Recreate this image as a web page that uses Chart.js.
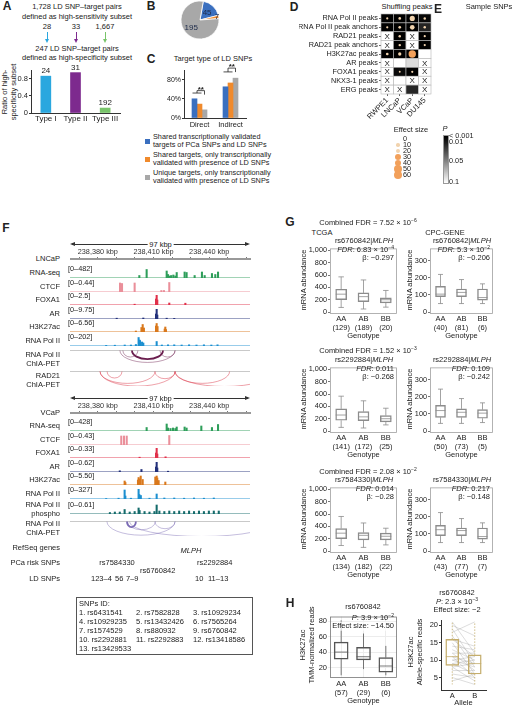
<!DOCTYPE html>
<html>
<head>
<meta charset="utf-8">
<script src="https://cdn.jsdelivr.net/npm/chart.js@4.4.0/dist/chart.umd.min.js"></script>
<style>
body { margin: 0; width: 520px; height: 707px; position: relative; background: #fff; overflow: hidden;
       font-family: 'Liberation Sans', Arial, sans-serif; color: #222; }
.t { position: absolute; font-size: 7px; line-height: 8px; white-space: nowrap; }
.t sup { font-size: 5px; vertical-align: 3px; line-height: 0; }
canvas { position: absolute; }
.bx { position: absolute; }
</style>
</head>
<body>
<script>
// ---------- Panel A ----------
const typeLabels = ['Type I', 'Type II', 'Type III'];
const sensitivityCounts = ['28', '33', '1,667'];
const specificityCounts = [24, 31, 192];
const specificityRatio = [0.857, 0.939, 0.115];
const ratioTicks = [0, 0.4, 0.8];

// ---------- Panel B ----------
const pieCounts = [45, 7, 195];

// ---------- Panel C ----------
const targetGroups = ['Direct', 'Indirect'];
const sharedValidated = [40, 65];
const sharedLdOnly = [29, 73];
const uniqueLdOnly = [17, 83];
const percentTicks = [0, 20, 40, 60, 80, 100];
const sigBrackets = [[52, 57], [96, 104]]; // base / top, in %

// ---------- Panels D, E ----------
const cellLines = ['RWPE1', 'LNCaP', 'VCaP', 'DU145'];
const peakSets = ['RNA Pol II peaks', 'RNA Pol II peak anchors', 'RAD21 peaks', 'RAD21 peak anchors',
  'H3K27ac peaks', 'AR peaks', 'FOXA1 peaks', 'NKX3-1 peaks', 'ERG peaks'];
const shuffleP = [
  [0.001, 0.001, 0.001, 0.003], [0.001, 0.001, 0.001, 0.012], [null, 0.001, null, 0.001],
  [null, 0.001, null, 0.001], [0.001, 0.001, 0.001, 0.1], [null, 0.1, 0.085, null],
  [null, 0.004, 0.001, null], [null, 0.1, null, null], [null, null, 0.013, null]];
const shuffleEffect = [
  [4, 6, 22, 5], [4, 6, 18, 5], [0, 5, 0, 4], [0, 5, 0, 4], [6, 9, 45, 0],
  [0, 0, 0, 0], [0, 3, 4, 0], [0, 0, 0, 0], [0, 0, 0, 0]];
const sampleP = [
  [0.1, 0.001, 0.001, 0.1], [0.06, 0.001, 0.001, 0.1], [null, 0.001, null, 0.1],
  [null, 0.001, null, 0.065], [0.001, 0.001, 0.001, 0.1], [null, 0.1, 0.1, null],
  [null, 0.012, 0.001, null], [null, 0.1, null, null], [null, null, 0.075, null]];
const sampleEffect = [
  [0, 5, 7, 0], [0, 5, 7, 0], [0, 5, 0, 0], [0, 5, 0, 0], [5, 9, 40, 0],
  [0, 0, 0, 0], [0, 3, 4, 0], [0, 0, 0, 0], [0, 0, 0, 0]];
const effectLegend = [0, 10, 20, 30, 40, 50, 60];
const pLegend = ['< 0.001', '0.01', '0.05', '0.1'];

// ---------- Panel F (positions in kbp from window start) ----------
const windowStart = 238365;
const windowKb = 97;
const rulerTicks = [5, 15, 25, 35, 45, 55, 65, 75, 85, 95];
const rulerLabelKb = [15, 45, 75];
const lncapRanges = ['[0–482]', '[0–0.44]', '[0–2.5]', '[0–9.75]', '[0–6.56]', '[0–202]'];
const vcapRanges = ['[0–428]', '[0–0.43]', '[0–0.33]', '[0–0.62]', '[0–5.50]', '[0–327]', '[0–0.61]'];
const lncapRna = [[31.8, .25], [37.7, .85], [53.9, .7], [55, .35], [56.5, .2], [57.6, .25], [59.3, .3], [60.9, .2],
  [62, .55], [68.4, .6], [70, .55], [76.5, .25], [82.4, .6], [84.6, .25], [90.5, .45], [93.2, .35], [95.4, .6]];
const lncapCtcf = [[16.2, .9], [17.8, .85], [28, .9], [49.6, .15], [51.7, .15], [56, .95]];
const lncapFoxa1 = [[28, .08], [45.3, .6], [45.8, 1], [46.3, .5], [56, .2], [69, .18]];
const lncapAr = [[13.5, .08], [35, .1], [45.3, .5], [45.8, 1], [46.3, .4], [53.9, .08], [60, .06]];
const lncapK27 = [[29, .1], [33.5, .45], [34.5, .75], [35.5, .4], [45.3, .6], [45.8, .85], [46.5, .55],
  [52.3, .3], [52.8, .5], [53.3, .25]];
const lncapPol = [[5, .06], [12, .08], [20, .1], [25, .1], [29, .15], [31.2, .85], [31.8, .6], [32.3, .55], [34, .4],
  [35, .3], [45.8, .45], [50, .1], [55, .12], [60, .12], [66, .1], [72, .12], [78, .1], [84, .12], [90, .1], [95, .12]];
const lncapPolArcs = [[26.9, 56.6, 2], [33.4, 50.1, 8], [28.5, 36.6, 2], [48.5, 56.6, 2]];
const lncapRadArcs = [[16.2, 56.6, 4], [16.2, 45.8, 3], [45.8, 56.6, 2], [56.6, 110, 4], [56.6, 86, 3], [20, 28, 2]];
const vcapRna = [[37.7, .35], [53.9, .7], [55, .3], [57, .25], [59, .3], [60.9, .25], [62, .4], [68.4, .4], [70, .3],
  [81.9, .5], [90.5, .35], [95.4, .65]];
const vcapCtcf = [[17.2, .9], [19.4, .9], [21.6, .9], [56, .95]];
const vcapFoxa1 = [[32, .08], [45.3, .5], [45.8, 1], [46.3, .4], [53, .12]];
const vcapAr = [[16, .12], [33.5, .25], [45.3, .5], [45.8, 1], [46.3, .4], [55, .08]];
const vcapK27 = [[19.9, .4], [20.5, .25], [30.7, .5], [31.2, .75], [32, .6], [32.9, .9], [34.5, .55], [44.7, .8],
  [45.8, .9], [46.3, .7], [47.4, .45], [52.8, .3]];
const vcapPol = [[5, .05], [15, .08], [19.9, .9], [20.5, .3], [25, .08], [31.2, 1], [31.8, .45], [33, .35], [40, .08],
  [45.8, .5], [52, .1], [60, .1], [68, .08], [76, .1], [84, .08], [92, .1]];
const vcapPhospho = [[8, .15], [12, .2], [16, .2], [19.9, .45], [24, .2], [28, .25], [31.2, .6], [32, .35], [36, .25],
  [40, .2], [44, .25], [45.8, .9], [48, .3], [52, .25], [56, .3], [60, .25], [64, .3], [68, .25], [72, .3], [76, .25],
  [80, .3], [84, .25], [88, .3], [92, .3], [96, .3]];
const vcapPolArcs = [[19.9, 56.6, 2], [30.7, 35.5, 8], [32, 110, 2], [45.8, 56.6, 2], [31, 46, 3]];
const mlphSpan = [31, 97];
const mlphExons = [31.3, 39.3, 53.9, 60.9, 65.7, 69, 77, 81.9, 86.2, 90.5, 94.3];
const pcaSnpKb = [23.2, 76.5];
const ldSnpKb = [12.9, 14.5, 15.6, 16.2, 24.2, 26.4, 32.3, 33.4, 35, 68.4, 76, 78.7, 81.4];
const snpIds = ['rs6431541', 'rs7582828', 'rs10929234', 'rs10929235', 'rs13432426', 'rs7565264', 'rs1574529',
  'rs880932', 'rs6760842', 'rs2292881', 'rs2292883', 'rs13418586', 'rs13429533'];

// ---------- Panel G (min, q1, median, q3, max) ----------
const genotypes = ['AA', 'AB', 'BB'];
const tcga6760842 = [[75, 200, 290, 370, 570], [50, 170, 250, 310, 520], [80, 150, 200, 230, 350]];
const cpc6760842 = [[50, 90, 105, 150, 220], [50, 90, 115, 135, 190], [50, 70, 85, 135, 165]];
const tcga2292884 = [[60, 175, 260, 360, 565], [50, 170, 230, 315, 490], [100, 150, 200, 250, 370]];
const cpc2292884 = [[45, 80, 120, 150, 245], [45, 80, 110, 130, 190], [50, 75, 105, 125, 165]];
const tcga7584330 = [[90, 200, 290, 365, 560], [60, 180, 255, 300, 455], [100, 180, 240, 290, 370]];
const cpc7584330 = [[50, 90, 125, 150, 225], [50, 90, 120, 135, 190], [50, 70, 85, 135, 165]];
const tcgaN = [[129, 189, 20], [141, 172, 25], [134, 182, 22]];
const cpcN = [[40, 81, 6], [50, 73, 5], [43, 77, 7]];
const tcgaTicks = [0, 200, 400, 600, 800, 1000];
const cpcTicks = [0, 100, 200, 300];

// ---------- Panel H ----------
const h3k27Box = [[10, 31, 40, 53, 81], [18, 30, 34, 46, 64], [10, 14, 22, 33, 48]];
const h3k27N = [57, 29, 6];
const alleleBox = [[3, 8.5, 11, 16, 21], [3, 6, 9, 11.5, 21]];
const alleleA = [21, 20, 19, 18, 17, 16, 16, 15, 14, 13, 12, 12, 11, 11, 10, 10, 9, 9, 8, 8, 7, 6, 5, 4];
const alleleB = [12, 17, 9, 21, 8, 11, 14, 6, 13, 10, 7, 12, 9, 5, 11, 8, 6, 10, 4, 9, 7, 5, 3, 6];

// ===================================================================
Chart.defaults.font.family = "'Liberation Sans', Arial, sans-serif";
Chart.defaults.font.size = 7;
Chart.defaults.color = '#222';
Chart.defaults.plugins.legend.display = false;
Chart.defaults.plugins.tooltip.enabled = false;

function txt(x, y, s, o = {}) {
  const d = document.createElement('div');
  d.className = 't';
  d.innerHTML = s;
  const st = d.style;
  st.left = x + 'px';
  st.top = y + 'px';
  if (o.size) { st.fontSize = o.size + 'px'; st.lineHeight = (o.size + 1) + 'px'; }
  if (o.color) st.color = o.color;
  if (o.bold) st.fontWeight = 'bold';
  if (o.italic) st.fontStyle = 'italic';
  if (o.bg) st.background = o.bg;
  st.textAlign = o.ta || (o.align === 'r' ? 'right' : o.align === 'l' ? 'left' : 'center');
  const ax = o.align === 'r' ? '-100%' : o.align === 'l' ? '0' : '-50%';
  st.transform = o.rot ? `translate(-50%,-50%) rotate(${o.rot}deg)` : `translate(${ax},-50%)`;
  document.body.appendChild(d);
  return d;
}

function box(x, y, w, h, css) {
  const d = document.createElement('div');
  d.className = 'bx';
  Object.assign(d.style, {left: x + 'px', top: y + 'px', width: w + 'px', height: h + 'px'}, css);
  document.body.appendChild(d);
  return d;
}

function mk(x, y, w, h, config) {
  const c = document.createElement('canvas');
  c.width = w; c.height = h;
  c.style.left = x + 'px'; c.style.top = y + 'px';
  c.style.width = w + 'px'; c.style.height = h + 'px';
  document.body.appendChild(c);
  config.options = Object.assign({responsive: false, animation: false, devicePixelRatio: 1, events: []}, config.options);
  return new Chart(c, config);
}

// grey level for a P value, same stops as the colour bar
const pStops = [[0.001, 0], [0.01, 30], [0.05, 135], [0.1, 255]];
function pGray(p) {
  if (p <= pStops[0][0]) return 'rgb(0,0,0)';
  for (let i = 1; i < pStops.length; i++) {
    if (p <= pStops[i][0]) {
      const [p0, g0] = pStops[i - 1], [p1, g1] = pStops[i];
      const g = Math.round(g0 + (g1 - g0) * (p - p0) / (p1 - p0));
      return `rgb(${g},${g},${g})`;
    }
  }
  return '#fff';
}
const dotRadius = e => 0.55 * Math.sqrt(e);
const dotColor = e => e >= 25 ? '#f2a05a' : '#f1d3ae';

// ---------- plugins ----------
const topLabels = {
  id: 'topLabels',
  afterDatasetsDraw(chart, args, o) {
    if (!o.labels) return;
    const ctx = chart.ctx;
    ctx.save();
    ctx.font = "8px 'Liberation Sans', Arial";
    ctx.fillStyle = '#222';
    ctx.textAlign = 'center';
    ctx.textBaseline = 'bottom';
    chart.getDatasetMeta(0).data.forEach((b, i) => ctx.fillText(o.labels[i], b.x, b.y - 1));
    ctx.restore();
  }
};

const pieLabels = {
  id: 'pieLabels',
  afterDatasetsDraw(chart, args, o) {
    if (!o.labels) return;
    const ctx = chart.ctx;
    ctx.save();
    ctx.font = "8px 'Liberation Sans', Arial";
    ctx.fillStyle = '#1d2b4a';
    ctx.textAlign = 'center';
    ctx.textBaseline = 'middle';
    chart.getDatasetMeta(0).data.forEach((arc, i) => {
      const p = arc.getProps(['x', 'y', 'startAngle', 'endAngle', 'outerRadius']);
      const m = (p.startAngle + p.endAngle) / 2;
      const r = p.outerRadius * o.radius[i];
      ctx.fillText(o.labels[i], p.x + Math.cos(m) * r, p.y + Math.sin(m) * r);
    });
    ctx.restore();
  }
};

const brackets = {
  id: 'brackets',
  afterDatasetsDraw(chart, args, o) {
    if (!o.items) return;
    const ctx = chart.ctx, y = chart.scales.y;
    ctx.save();
    ctx.strokeStyle = '#222';
    ctx.lineWidth = 0.8;
    ctx.fillStyle = '#222';
    ctx.font = "bold 8px 'Liberation Sans', Arial";
    ctx.textAlign = 'center';
    o.items.forEach(([base, top], g) => {
      const b = chart.getDatasetMeta(0).data[g].x;
      const or = chart.getDatasetMeta(1).data[g].x;
      const gr = chart.getDatasetMeta(2).data[g].x;
      const yb = y.getPixelForValue(base), yt = y.getPixelForValue(top);
      const mid = (b + or) / 2;
      ctx.beginPath();
      ctx.moveTo(b - 2, yb); ctx.lineTo(or + 2, yb);
      ctx.moveTo(mid, yb); ctx.lineTo(mid, yt); ctx.lineTo(gr, yt); ctx.lineTo(gr, yt + 4);
      ctx.stroke();
      ctx.fillText('**', (mid + gr) / 2, yt + 1);
    });
    ctx.restore();
  }
};

const heatCells = {
  id: 'heatCells',
  beforeDatasetsDraw(chart, args, o) {
    if (!o.p) return;
    const ctx = chart.ctx, x = chart.scales.x, y = chart.scales.y;
    const cw = Math.abs(x.getPixelForValue(1) - x.getPixelForValue(0));
    const ch = Math.abs(y.getPixelForValue(1) - y.getPixelForValue(0));
    ctx.save();
    o.p.forEach((row, r) => row.forEach((p, c) => {
      const cx = x.getPixelForValue(c), cy = y.getPixelForValue(r);
      ctx.fillStyle = p == null ? '#fff' : pGray(p);
      ctx.fillRect(cx - cw / 2, cy - ch / 2, cw, ch);
      ctx.strokeStyle = '#b5b5b5';
      ctx.lineWidth = 0.6;
      ctx.strokeRect(cx - cw / 2, cy - ch / 2, cw, ch);
      if (p == null) {
        ctx.fillStyle = '#222';
        ctx.font = "8px 'Liberation Sans', Arial";
        ctx.textAlign = 'center';
        ctx.textBaseline = 'middle';
        ctx.fillText('X', cx, cy + 0.5);
      }
    }));
    ctx.restore();
  }
};

const trackBase = {
  id: 'trackBase',
  beforeDatasetsDraw(chart, args, o) {
    if (!o.color) return;
    const ctx = chart.ctx, a = chart.chartArea;
    ctx.save();
    ctx.globalAlpha = 0.45;
    ctx.strokeStyle = o.color;
    ctx.lineWidth = 1;
    ctx.beginPath();
    ctx.moveTo(a.left, a.bottom - 0.5); ctx.lineTo(a.right, a.bottom - 0.5);
    ctx.stroke();
    ctx.restore();
  }
};

const arcsPlugin = {
  id: 'arcs',
  afterDraw(chart, args, o) {
    if (!o.arcs) return;
    const ctx = chart.ctx, x = chart.scales.x, y = chart.scales.y, a = chart.chartArea;
    ctx.save();
    ctx.strokeStyle = '#bbb';
    ctx.lineWidth = 0.8;
    ctx.beginPath(); ctx.moveTo(a.left, a.top + 0.5); ctx.lineTo(a.right, a.top + 0.5); ctx.stroke();
    ctx.beginPath(); ctx.rect(a.left, a.top, a.width, a.height + 2); ctx.clip();
    o.arcs.forEach(([s, e, n]) => {
      const x1 = x.getPixelForValue(s), x2 = x.getPixelForValue(e);
      const depth = y.getPixelForValue(Math.min(1, 0.3 + (e - s) / 60)) - y.getPixelForValue(0);
      ctx.strokeStyle = o.color;
      ctx.globalAlpha = n >= 5 ? 1 : 0.55;
      ctx.lineWidth = n >= 5 ? 1.8 : 0.8;
      ctx.beginPath();
      ctx.ellipse((x1 + x2) / 2, a.top + 0.5, (x2 - x1) / 2, depth, 0, 0, Math.PI);
      ctx.stroke();
    });
    ctx.restore();
  }
};

const frame = {
  id: 'frame',
  afterDraw(chart, args, o) {
    if (!o.color) return;
    const ctx = chart.ctx, a = chart.chartArea;
    ctx.save();
    ctx.strokeStyle = o.color;
    ctx.lineWidth = 0.8;
    ctx.strokeRect(a.left + 0.5, a.top + 0.5, a.width - 1, a.height - 1);
    ctx.restore();
  }
};

const boxWhisk = {
  id: 'boxWhisk',
  afterDatasetsDraw(chart, args, o) {
    if (!o.stats) return;
    const ctx = chart.ctx, y = chart.scales.y;
    const meta = chart.getDatasetMeta(0);
    const Y = v => y.getPixelForValue(v);
    ctx.save();
    ctx.strokeStyle = o.color;
    ctx.lineWidth = 0.8;
    o.stats.forEach((s, i) => {
      const el = meta.data[i], hw = el.width / 2;
      ctx.setLineDash(o.dash || []);
      ctx.beginPath();
      ctx.moveTo(el.x, Y(s[3])); ctx.lineTo(el.x, Y(s[4]));
      ctx.moveTo(el.x, Y(s[1])); ctx.lineTo(el.x, Y(s[0]));
      ctx.stroke();
      ctx.setLineDash([]);
      ctx.beginPath();
      if (o.cap) {
        ctx.moveTo(el.x - hw * 0.5, Y(s[4])); ctx.lineTo(el.x + hw * 0.5, Y(s[4]));
        ctx.moveTo(el.x - hw * 0.5, Y(s[0])); ctx.lineTo(el.x + hw * 0.5, Y(s[0]));
      }
      ctx.moveTo(el.x - hw, Y(s[2])); ctx.lineTo(el.x + hw, Y(s[2]));
      ctx.stroke();
    });
    ctx.restore();
  }
};

Chart.register(topLabels, pieLabels, brackets, heatCells, trackBase, arcsPlugin, frame, boxWhisk);

// category x axis with flat labels and no tick offset
const flatTicks = extra => Object.assign({maxRotation: 0, minRotation: 0, autoSkip: false}, extra);
const noGrid = {display: false, drawTicks: false};

// ===================== Panel A =====================
txt(7, 6, 'A', {size: 12, bold: true});
txt(77, 7, '1,728 LD SNP–target pairs', {size: 7.5});
txt(77, 17, 'defined as high-sensitivity subset', {size: 7.5});
const arrowXs = [47, 76, 105];
const typeColors = ['#2aa7df', '#7d2a8e', '#78c46a'];
arrowXs.forEach((ax, i) => {
  txt(ax, 27, sensitivityCounts[i], {size: 7.5});
  box(ax - 0.5, 32, 1, 8, {background: typeColors[i]});
  box(ax - 2.5, 39, 0, 0, {borderLeft: '2.5px solid transparent', borderRight: '2.5px solid transparent',
    borderTop: '4px solid ' + typeColors[i]});
});
txt(77, 49, '247 LD SNP–target pairs', {size: 7.5});
txt(77, 58, 'defined as high-specificity subset', {size: 7.5});
txt(9, 92, 'Ratio of high-<br>specificity subset', {size: 7.5, rot: -90});

mk(10, 58, 111, 67, {
  type: 'bar',
  data: {labels: typeLabels, datasets: [{data: specificityRatio, backgroundColor: typeColors, barThickness: 10}]},
  options: {
    layout: {padding: {top: 12, right: 1}},
    scales: {
      x: {grid: noGrid, border: {color: '#333'}, ticks: flatTicks({padding: 1, font: {size: 8}}),
          afterFit: s => { s.height = 12; }},
      y: {min: 0, max: 1.0, grid: {drawOnChartArea: false, tickLength: 2, color: '#333'}, border: {color: '#333'},
          afterBuildTicks: s => { s.ticks = ratioTicks.map(v => ({value: v})); },
          ticks: {padding: 1, font: {size: 7.5}, callback: v => String(v)}, afterFit: s => { s.width = 21; }}
    },
    plugins: {topLabels: {labels: specificityCounts}}
  }
});

// ===================== Panel B =====================
txt(151, 6, 'B', {size: 12, bold: true});
mk(180, 0, 40, 40, {
  type: 'pie',
  data: {datasets: [{data: pieCounts, backgroundColor: ['#3a6fbf', '#f08a2c', '#a8a8a8'], borderColor: '#fff', borderWidth: 0.8}]},
  options: {rotation: 10, radius: 19, layout: {padding: 0},
    plugins: {pieLabels: {labels: pieCounts, radius: [0.55, 0.9, 0.62]}}}
});

// ===================== Panel C =====================
txt(151, 59, 'C', {size: 12, bold: true});
txt(213, 59, 'Target type of LD SNPs', {size: 7.5});
mk(160, 58, 87, 71, {
  type: 'bar',
  data: {labels: targetGroups, datasets: [
    {data: sharedValidated, backgroundColor: '#3a6fbf'},
    {data: sharedLdOnly, backgroundColor: '#f08a2c'},
    {data: uniqueLdOnly, backgroundColor: '#a8a8a8'}]},
  options: {
    layout: {padding: {top: 12, right: 1}},
    datasets: {bar: {barThickness: 5, categoryPercentage: 0.68, barPercentage: 0.7}},
    scales: {
      x: {grid: noGrid, border: {color: '#333'}, ticks: flatTicks({padding: 2, font: {size: 7.5}}),
          afterFit: s => { s.height = 11; }},
      y: {min: 0, max: 100, grid: {drawOnChartArea: false, tickLength: 2, color: '#333'}, border: {color: '#333'},
          afterBuildTicks: s => { s.ticks = percentTicks.map(v => ({value: v})); },
          ticks: {padding: 1, callback: v => v + '%'}, afterFit: s => { s.width = 24; }}
    },
    plugins: {brackets: {items: sigBrackets}}
  }
});
const legendC = [
  ['#3a6fbf', 'Shared transcriptionally validated<br>targets of PCa SNPs and LD SNPs', 141],
  ['#f08a2c', 'Shared targets, only transcriptionally<br>validated with presence of LD SNPs', 159],
  ['#a8a8a8', 'Unique targets, only transcriptionally<br>validated with presence of LD SNPs', 177]];
legendC.forEach(([c, s, y]) => {
  box(145, y - 2.5, 5, 5, {background: c});
  txt(153, y, s, {size: 7.3, align: 'l'});
});

// ===================== Panels D, E =====================
function heatmap(left, width, pRows, effRows, showRows) {
  const pts = [];
  effRows.forEach((row, r) => row.forEach((e, c) => {
    if (e > 0) pts.push({x: cellLines[c], y: peakSets[r], r: dotRadius(e), e: e});
  }));
  return mk(left, 8, width, 120, {
    type: 'bubble',
    data: {datasets: [{data: pts, backgroundColor: c => dotColor(c.raw ? c.raw.e : 0), borderWidth: 0}]},
    options: {
      layout: {padding: {top: 6, right: 2, left: showRows ? 0 : 3}},
      scales: {
        x: {type: 'category', labels: cellLines, offset: true, grid: {display: true, drawOnChartArea: false, tickLength: 2, color: '#666'},
            border: {display: false},
            ticks: {minRotation: 45, maxRotation: 45, padding: 0, autoSkip: false, font: {size: 7.5}},
            afterFit: s => { s.height = 34; }},
        y: {type: 'category', labels: peakSets, offset: true, display: showRows,
            grid: {display: true, drawOnChartArea: false, tickLength: 2, color: '#666'},
            border: {display: false}, ticks: {padding: 1, autoSkip: false, font: {size: 7.3}},
            afterFit: s => { s.width = 82; }}
      },
      plugins: {heatCells: {p: pRows}}
    }
  });
}
txt(294, 7, 'D', {size: 12, bold: true});
txt(407, 7, 'Shuffling peaks', {size: 7.5});
heatmap(299, 136, shuffleP, shuffleEffect, true);
txt(438, 9, 'E', {size: 12, bold: true});
txt(489, 7, 'Sample SNPs', {size: 7.5});
heatmap(460, 57, sampleP, sampleEffect, false);

txt(411, 130, 'Effect size', {size: 7.5});
effectLegend.forEach((e, i) => {
  const yy = 139 + i * 6;
  const r = dotRadius(e);
  if (r > 0) box(398 - r, yy - r, 2 * r, 2 * r, {background: dotColor(e), borderRadius: '50%'});
  txt(403, yy, String(e), {size: 7.3, align: 'l'});
});
txt(445, 129, 'P', {size: 7.5, italic: true});
box(443, 135, 4, 47, {background: 'linear-gradient(#000 0%, #1e1e1e 15%, #878787 55%, #fff 100%)', border: '0.5px solid #999'});
[136, 142, 161, 182].forEach((yy, i) => txt(449, yy, pLegend[i], {size: 7.3, align: 'l'}));

// ===================== Panel F =====================
txt(6, 228, 'F', {size: 12, bold: true});
const fX = 70, fW = 181;

function arrowLine(y) {
  box(fX + 2, y, fW - 5, 0, {borderTop: '0.8px solid #333'});
  box(fX, y - 2, 0, 0, {borderTop: '2.5px solid transparent', borderBottom: '2.5px solid transparent', borderRight: '5px solid #333'});
  box(fX + fW - 6, y - 2, 0, 0, {borderTop: '2.5px solid transparent', borderBottom: '2.5px solid transparent', borderLeft: '5px solid #333'});
  txt(fX + fW / 2, y + 0.5, '&nbsp;97 kbp&nbsp;', {size: 7.5, bg: '#fff'});
}

function ruler(lineY, name) {
  arrowLine(lineY - 15);
  mk(fX, lineY - 12, fW, 14, {
    type: 'scatter', data: {datasets: []},
    options: {
      layout: {padding: {right: 1}},
      scales: {
        x: {type: 'linear', position: 'top', min: 0, max: windowKb,
            afterBuildTicks: s => { s.ticks = rulerTicks.map(v => ({value: v})); },
            ticks: {callback: v => rulerLabelKb.includes(v) ? (windowStart + v).toLocaleString('en-US') + ' kbp' : '',
                    padding: 1, maxRotation: 0, autoSkip: false, font: {size: 7.3}, color: '#333'},
            grid: {drawOnChartArea: false, tickLength: 2, color: '#777'}, border: {color: '#999', width: 2},
            afterFit: s => { s.height = 12; }},
        y: {display: false, min: 0, max: 1}
      }
    }
  });
  txt(60, lineY, name, {size: 7.5, align: 'r'});
}

function track(baseY, peaks, color, name, range) {
  mk(fX, baseY - 9, fW, 10, {
    type: 'bar',
    data: {datasets: [{data: peaks.map(p => ({x: p[0], y: p[1]})), backgroundColor: color, barThickness: 1.4}]},
    options: {
      layout: {padding: {right: 1}},
      scales: {x: {type: 'linear', min: 0, max: windowKb, display: false}, y: {min: 0, max: 1, display: false}},
      plugins: {trackBase: {color: color}}
    }
  });
  txt(60, baseY - 4, name, {size: 7.5, align: 'r', ta: 'right'});
  txt(68, baseY - 8, range, {size: 7.3, align: 'l'});
}

function arcTrack(baseY, arcs, color, name, labelY) {
  mk(fX, baseY, fW, 15, {
    type: 'scatter', data: {datasets: []},
    options: {
      layout: {padding: {right: 1}},
      scales: {x: {type: 'linear', min: 0, max: windowKb, display: false},
               y: {min: 0, max: 1, reverse: true, display: false}},
      plugins: {arcs: {arcs: arcs, color: color}}
    }
  });
  txt(60, labelY, name, {size: 7.5, align: 'r', ta: 'right'});
}

const trackNames = ['RNA-seq', 'CTCF', 'FOXA1', 'AR', 'H3K27ac', 'RNA Pol II'];
const trackColors = ['#2e9e5a', '#ea8f9a', '#e0304a', '#23307a', '#d9781c', '#1b8fd0', '#146b6b'];

ruler(259, 'LNCaP');
[lncapRna, lncapCtcf, lncapFoxa1, lncapAr, lncapK27, lncapPol].forEach((pk, i) =>
  track(277 + i * 13.5, pk, trackColors[i], trackNames[i], lncapRanges[i]));
arcTrack(350, lncapPolArcs, '#6b1f4f', 'RNA Pol II<br>ChIA-PET', 359);
arcTrack(371, lncapRadArcs, '#d8283a', 'RAD21<br>ChIA-PET', 380);

ruler(413, 'VCaP');
[vcapRna, vcapCtcf, vcapFoxa1, vcapAr, vcapK27, vcapPol].forEach((pk, i) =>
  track(430 + i * 13.5, pk, trackColors[i], trackNames[i], vcapRanges[i]));
track(513, vcapPhospho, trackColors[6], 'RNA Pol II<br>phospho', vcapRanges[6]);
arcTrack(521, vcapPolArcs, '#7a6ab4', 'RNA Pol II<br>ChIA-PET', 528);

// gene model
mk(fX, 539, fW, 8, {
  type: 'scatter',
  data: {datasets: [
    {type: 'line', data: mlphSpan.map(v => ({x: v, y: 0})), borderColor: '#222', borderWidth: 0.8, pointRadius: 0},
    {data: mlphExons.map(v => ({x: v, y: 0})), pointStyle: 'line', pointRotation: 90, pointRadius: 2.5,
     pointBorderColor: '#222', pointBorderWidth: 1}]},
  options: {layout: {padding: {right: 1}},
    scales: {x: {type: 'linear', min: 0, max: windowKb, display: false}, y: {min: -1, max: 1, display: false}}}
});
txt(60, 548, 'RefSeq genes', {size: 7.5, align: 'r'});
txt(191, 551, 'MLPH', {size: 7.5, italic: true});

function snpTicks(top, kb, color) {
  mk(fX, top, fW, 8, {
    type: 'scatter',
    data: {datasets: [{data: kb.map(v => ({x: v, y: 0})), pointStyle: 'line', pointRotation: 90, pointRadius: 3,
      pointBorderColor: color, pointBorderWidth: 0.8}]},
    options: {layout: {padding: {right: 1}},
      scales: {x: {type: 'linear', min: 0, max: windowKb, display: false}, y: {min: -1, max: 1, display: false}}}
  });
}
snpTicks(552, pcaSnpKb, '#e07080');
txt(60, 563, 'PCa risk SNPs', {size: 7.5, align: 'r'});
txt(117, 563, 'rs7584330', {size: 7.5});
txt(197, 563, 'rs2292884', {size: 7.5, align: 'l'});
snpTicks(566, ldSnpKb, '#444');
txt(140, 571, 'rs6760842', {size: 7.5, align: 'l'});
txt(60, 579, 'LD SNPs', {size: 7.5, align: 'r'});
txt(91, 579, '123–4', {size: 7.5, align: 'l'});
txt(115, 579, '56', {size: 7.5, align: 'l'});
txt(126, 579, '7–9', {size: 7.5, align: 'l'});
txt(195, 579, '10', {size: 7.5, align: 'l'});
txt(208, 579, '11–13', {size: 7.5, align: 'l'});

box(76, 597, 175, 56, {border: '1px solid #555'});
txt(79, 604, 'SNPs ID:', {size: 7.5, align: 'l'});
const snpCols = [79, 136, 193];
snpIds.forEach((id, i) => {
  txt(snpCols[i % 3], 613 + Math.floor(i / 3) * 9, (i + 1) + '. ' + id, {size: 7.5, align: 'l'});
});

// ===================== Panel G =====================
txt(290, 222, 'G', {size: 12, bold: true});
txt(322, 233, 'TCGA', {size: 7.5});
txt(445, 233, 'CPC-GENE', {size: 7.5});

function boxChart(left, plotLeft, plotRight, plotTop, plotBottom, stats, counts, yMin, yMax, yTicks, thick) {
  const yw = plotLeft - left;
  mk(left, plotTop - 2, plotRight - left + 1, plotBottom - plotTop + 2 + 26, {
    type: 'bar',
    data: {labels: genotypes.map((g, i) => [g, '(' + counts[i] + ')']),
      datasets: [{data: stats.map(s => [s[1], s[3]]), backgroundColor: 'rgba(255,255,255,0)', borderColor: '#8c8c8c',
        borderWidth: 0.8, borderSkipped: false, barThickness: thick}]},
    options: {
      layout: {padding: {top: 2, right: 1}},
      scales: {
        x: {grid: noGrid, border: {display: false},
            ticks: flatTicks({padding: 1, font: {size: 7.5, lineHeight: 1.15}}),
            title: {display: true, text: 'Genotype', padding: 0, font: {size: 7.5, lineHeight: 1.1}},
            afterFit: s => { s.height = 26; }},
        y: {min: yMin, max: yMax, grid: {drawOnChartArea: false, tickLength: 2, color: '#777'}, border: {display: false},
            afterBuildTicks: s => { s.ticks = yTicks.map(v => ({value: v})); },
            ticks: {padding: 1, font: {size: 7.3}, callback: v => v.toLocaleString('en-US')},
            afterFit: s => { s.width = yw; }}
      },
      plugins: {frame: {color: '#a0a0a0'}, boxWhisk: {stats: stats, color: '#8c8c8c', cap: true}}
    }
  });
}

const gRows = [
  {top: 245, comb: 'Combined FDR = 7.52 × 10<sup>−6</sup>', combY: 223, snp: 'rs6760842', tS: tcga6760842, cS: cpc6760842,
   fdr: ['6.83 × 10<sup>−4</sup>', '5.3 × 10<sup>−2</sup>'], beta: ['−0.297', '−0.206']},
  {top: 364, comb: 'Combined FDR = 1.52 × 10<sup>−3</sup>', combY: 351, snp: 'rs2292884', tS: tcga2292884, cS: cpc2292884,
   fdr: ['0.011', '0.109'], beta: ['−0.268', '−0.242']},
  {top: 484, comb: 'Combined FDR = 2.08 × 10<sup>−2</sup>', combY: 472, snp: 'rs7584330', tS: tcga7584330, cS: cpc7584330,
   fdr: ['0.014', '0.217'], beta: ['−0.28', '−0.148']}];

gRows.forEach((r, i) => {
  const bottom = r.top + 69;
  txt(368, r.combY, r.comb, {size: 7.5});
  txt(364, r.top - 4, r.snp + '|<i>MLPH</i>', {size: 7.5});
  txt(462, r.top - 4, r.snp + '|<i>MLPH</i>', {size: 7.5});
  boxChart(308, 330, 397, r.top, bottom, r.tS, tcgaN[i], -31, 1031, tcgaTicks, 11);
  boxChart(414, 430, 493, r.top, bottom, r.cS, cpcN[i], -11, 372, cpcTicks, 10);
  txt(304, r.top + 35, 'mRNA abundance', {size: 7.5, rot: -90});
  txt(410, r.top + 35, 'mRNA abundance', {size: 7.5, rot: -90});
  txt(394, r.top + 5, '<i>FDR</i>: ' + r.fdr[0], {size: 7.5, align: 'r'});
  txt(394, r.top + 13, 'β: ' + r.beta[0], {size: 7.5, align: 'r'});
  txt(490, r.top + 5, '<i>FDR</i>: ' + r.fdr[1], {size: 7.5, align: 'r'});
  txt(490, r.top + 13, 'β: ' + r.beta[1], {size: 7.5, align: 'r'});
});

// ===================== Panel H =====================
txt(290, 603, 'H', {size: 12, bold: true});
txt(363, 607, 'rs6760842', {size: 7.5});
mk(308, 611, 90, 94, {
  type: 'bar',
  data: {labels: genotypes.map((g, i) => [g, '(' + h3k27N[i] + ')']),
    datasets: [{data: h3k27Box.map(s => [s[1], s[3]]), backgroundColor: 'rgba(255,255,255,0)', borderColor: '#555',
      borderWidth: 0.8, borderSkipped: false, barThickness: 14}]},
  options: {
    layout: {padding: {top: 2, right: 1}},
    scales: {
      x: {grid: {color: '#ececec', offset: false, drawTicks: false}, border: {display: false},
          ticks: flatTicks({padding: 2, font: {size: 7.5, lineHeight: 1.15}}),
          title: {display: true, text: 'Genotype', padding: 0, font: {size: 7.5, lineHeight: 1.1}},
          afterFit: s => { s.height = 27; }},
      y: {min: 6.5, max: 86, grid: {color: '#ececec', tickLength: 2}, border: {display: false},
          afterBuildTicks: s => { s.ticks = [20, 40, 60, 80].map(v => ({value: v})); },
          ticks: {padding: 1, font: {size: 7.5}}, afterFit: s => { s.width = 22; }}
    },
    plugins: {frame: {color: '#777'}, boxWhisk: {stats: h3k27Box, color: '#555'}}
  }
});
txt(307, 645, 'H3K27ac<br>TMM-normalized reads', {size: 7.5, rot: -90});
txt(394, 618, '<i>P</i>: 3.9 × 10<sup>−2</sup>', {size: 7.5, align: 'r'});
txt(394, 626, 'Effect size: −14.50', {size: 7.5, align: 'r', bg: 'rgba(255,255,255,0.7)'});

txt(457, 593, 'rs6760842', {size: 7.5});
txt(457, 602, '<i>P</i>: 2.3 × 10<sup>−3</sup>', {size: 7.5});
txt(457, 610, 'Effect size: −2', {size: 7.5});
const pairSets = alleleA.map((a, i) => ({type: 'line', data: [a, alleleB[i]], borderColor: 'rgba(150,150,150,0.55)',
  borderWidth: 0.6, pointRadius: 0}));
mk(425, 615, 62, 92, {
  type: 'bar',
  data: {labels: ['A', 'B'], datasets: [
    {data: alleleBox.map(s => [s[1], s[3]]), backgroundColor: 'rgba(255,255,255,0)', borderColor: '#c4ad6c',
     borderWidth: 0.8, borderSkipped: false, barThickness: 13}].concat(pairSets)},
  options: {
    layout: {padding: {top: 2, right: 1}},
    scales: {
      x: {grid: noGrid, border: {color: '#333'}, ticks: flatTicks({padding: 1, font: {size: 7.5}}),
          title: {display: true, text: 'Allele', padding: 0, font: {size: 7.5, lineHeight: 1}},
          afterFit: s => { s.height = 17; }},
      y: {min: 1.4, max: 21.4, grid: {drawOnChartArea: false, tickLength: 2, color: '#333'}, border: {color: '#333'},
          afterBuildTicks: s => { s.ticks = [5, 10, 15, 20].map(v => ({value: v})); },
          ticks: {padding: 1, font: {size: 7.5}}, afterFit: s => { s.width = 16; }}
    },
    plugins: {boxWhisk: {stats: alleleBox, color: '#c4ad6c', dash: [1.5, 1.5]}}
  }
});
txt(415, 652, 'H3K27ac<br>Allele-specific reads', {size: 7.5, rot: -90});
</script>
</body>
</html>
